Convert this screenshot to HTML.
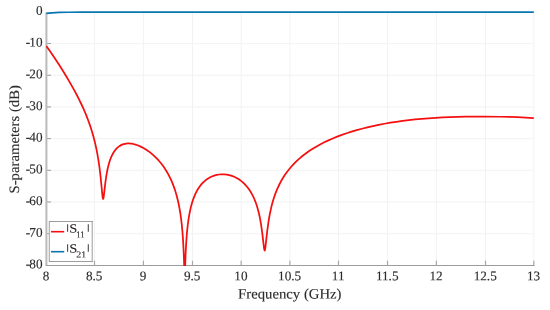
<!DOCTYPE html>
<html><head><meta charset="utf-8"><title>S-parameters</title><style>
html,body{margin:0;padding:0;background:#fff;width:550px;height:310px;overflow:hidden}
svg{display:block}
text{font-family:"Liberation Serif","Times New Roman",serif;fill:#2b2b2b;text-rendering:geometricPrecision;stroke:#2b2b2b;stroke-width:0.12px}
</style></head><body>
<svg width="550" height="310" viewBox="0 0 550 310">
<rect width="550" height="310" fill="#fff"/>
<g fill="#f2f2f2"><rect x="94.00" y="11.86" width="1" height="253.59"/><rect x="142.90" y="11.86" width="1" height="253.59"/><rect x="192.00" y="11.86" width="1" height="253.59"/><rect x="240.70" y="11.86" width="1" height="253.59"/><rect x="289.40" y="11.86" width="1" height="253.59"/><rect x="338.00" y="11.86" width="1" height="253.59"/><rect x="387.00" y="11.86" width="1" height="253.59"/><rect x="435.90" y="11.86" width="1" height="253.59"/><rect x="485.00" y="11.86" width="1" height="253.59"/><rect x="533.30" y="11.86" width="1" height="253.59"/></g>
<g fill="#f4f4f4"><rect x="46.30" y="42.95" width="487.50" height="1.2"/><rect x="46.30" y="74.64" width="487.50" height="1.2"/><rect x="46.30" y="106.33" width="487.50" height="1.2"/><rect x="46.30" y="138.02" width="487.50" height="1.2"/><rect x="46.30" y="169.71" width="487.50" height="1.2"/><rect x="46.30" y="201.40" width="487.50" height="1.2"/><rect x="46.30" y="233.09" width="487.50" height="1.2"/></g>
<g fill="#a8a8a8"><rect x="93.90" y="260.7" width="1.2" height="4.5"/><rect x="142.80" y="260.7" width="1.2" height="4.5"/><rect x="191.90" y="260.7" width="1.2" height="4.5"/><rect x="240.60" y="260.7" width="1.2" height="4.5"/><rect x="289.30" y="260.7" width="1.2" height="4.5"/><rect x="337.90" y="260.7" width="1.2" height="4.5"/><rect x="386.90" y="260.7" width="1.2" height="4.5"/><rect x="435.80" y="260.7" width="1.2" height="4.5"/><rect x="484.90" y="260.7" width="1.2" height="4.5"/><rect x="533.20" y="260.7" width="1.2" height="4.5"/></g>
<g fill="#9c9c9c"><rect x="46" y="43.05" width="5" height="1"/><rect x="46" y="74.74" width="5" height="1"/><rect x="46" y="106.43" width="5" height="1"/><rect x="46" y="138.12" width="5" height="1"/><rect x="46" y="169.81" width="5" height="1"/><rect x="46" y="201.50" width="5" height="1"/><rect x="46" y="233.19" width="5" height="1"/></g>
<rect x="45.4" y="12.4" width="2" height="253.60" fill="#bababa"/>
<rect x="46" y="265" width="488.6" height="1" fill="#9c9c9c"/>
<defs><clipPath id="c"><rect x="46" y="0" width="489" height="266"/></clipPath></defs>
<g clip-path="url(#c)" fill="none" stroke-linejoin="round" stroke-linecap="butt">
<path d="M46.30,13.37 49.04,13.06 52.06,12.81 59.18,12.45 68.31,12.26 81.79,12.18 533.80,12.17" stroke="#0876b2" stroke-width="1.7"/>
<path d="M46.30,45.98 49.71,50.81 53.13,55.80 59.90,66.10 63.18,71.30 66.35,76.48 69.37,81.58 72.23,86.58 74.75,91.13 77.08,95.51 79.26,99.80 81.30,104.00 83.21,108.15 85.01,112.27 86.68,116.36 88.25,120.44 89.66,124.36 90.96,128.26 92.19,132.22 93.33,136.20 94.40,140.22 95.39,144.35 96.31,148.52 97.17,152.83 98.49,160.54 99.65,168.73 100.76,178.43 102.38,195.22 102.73,197.80 102.90,198.53 103.05,198.88 103.13,198.92 103.21,198.87 103.38,198.49 103.73,196.63 105.49,181.64 106.13,177.13 106.79,173.11 107.49,169.49 108.25,166.16 109.07,163.11 109.96,160.31 111.05,157.42 112.24,154.82 113.53,152.51 114.92,150.46 116.42,148.67 118.04,147.15 119.78,145.89 121.62,144.89 122.75,144.43 123.92,144.06 125.13,143.78 126.38,143.59 127.66,143.49 128.98,143.47 130.34,143.55 131.73,143.72 133.15,143.98 134.62,144.32 137.62,145.29 140.71,146.60 143.86,148.25 147.00,150.20 150.07,152.41 153.04,154.86 155.91,157.55 158.64,160.44 161.22,163.52 163.66,166.80 165.94,170.26 168.18,174.10 170.25,178.14 172.16,182.42 173.90,186.88 175.47,191.56 176.89,196.51 178.16,201.70 179.28,207.15 180.24,212.73 181.08,218.71 181.83,225.14 182.46,231.99 182.99,239.15 183.44,247.08 183.82,255.45 184.29,268.00 185.07,268.00 185.08,267.93 185.64,253.52 186.20,242.78 186.90,233.29 187.75,225.00 188.61,218.66 189.62,212.84 190.77,207.54 192.07,202.72 192.87,200.21 193.73,197.82 194.64,195.57 195.60,193.43 196.63,191.40 197.71,189.49 198.85,187.68 200.06,185.98 201.32,184.40 202.65,182.93 204.04,181.57 205.49,180.31 207.00,179.17 208.56,178.15 210.18,177.25 211.86,176.46 214.19,175.58 216.62,174.93 219.11,174.50 221.64,174.31 224.20,174.35 226.75,174.62 229.30,175.13 231.80,175.86 234.23,176.80 236.59,177.96 238.87,179.32 241.07,180.88 243.15,182.63 245.14,184.58 247.02,186.71 248.80,189.02 250.28,191.23 251.68,193.60 252.99,196.10 254.22,198.75 255.37,201.57 256.43,204.53 257.43,207.69 258.34,211.00 259.07,214.00 259.77,217.19 261.01,224.07 262.21,232.55 263.97,247.68 264.35,249.83 264.52,250.34 264.69,250.47 264.86,250.26 265.03,249.67 265.41,247.34 267.18,231.38 268.40,222.28 269.67,214.75 271.14,207.85 272.08,204.08 273.09,200.48 274.20,196.99 275.38,193.65 276.64,190.41 278.00,187.28 279.45,184.25 281.00,181.30 282.76,178.27 284.63,175.32 286.62,172.47 288.73,169.70 290.97,167.01 293.33,164.41 295.81,161.88 298.44,159.42 301.18,157.04 304.07,154.74 307.09,152.50 310.25,150.33 313.55,148.23 316.99,146.19 320.57,144.23 324.29,142.33 328.42,140.37 332.71,138.49 337.17,136.68 341.80,134.94 346.60,133.27 351.55,131.68 356.66,130.16 361.92,128.72 367.33,127.36 372.89,126.08 378.57,124.88 384.39,123.76 390.33,122.72 396.38,121.77 402.54,120.91 408.78,120.13 415.15,119.44 421.70,118.83 428.45,118.29 435.41,117.83 442.59,117.44 450.01,117.13 465.69,116.71 483.34,116.57 500.73,116.75 509.19,116.95 517.53,117.23 525.73,117.58 533.80,118.01" stroke="#f41010" stroke-width="1.75"/>
</g>
<g font-size="13.2"><text transform="translate(46.00,280.35) rotate(0.05) scale(1.0,1)" text-anchor="middle">8</text><text transform="translate(94.20,280.35) rotate(0.05) scale(1.0,1)" text-anchor="middle">8.5</text><text transform="translate(143.10,280.35) rotate(0.05) scale(1.0,1)" text-anchor="middle">9</text><text transform="translate(192.20,280.35) rotate(0.05) scale(1.0,1)" text-anchor="middle">9.5</text><text transform="translate(240.90,280.35) rotate(0.05) scale(1.0,1)" text-anchor="middle">10</text><text transform="translate(289.60,280.35) rotate(0.05) scale(1.0,1)" text-anchor="middle">10.5</text><text transform="translate(338.20,280.35) rotate(0.05) scale(1.0,1)" text-anchor="middle">11</text><text transform="translate(387.20,280.35) rotate(0.05) scale(1.0,1)" text-anchor="middle">11.5</text><text transform="translate(436.10,280.35) rotate(0.05) scale(1.0,1)" text-anchor="middle">12</text><text transform="translate(485.20,280.35) rotate(0.05) scale(1.0,1)" text-anchor="middle">12.5</text><text transform="translate(533.50,280.35) rotate(0.05) scale(1.0,1)" text-anchor="middle">13</text><text transform="translate(42.5,14.86) rotate(0.05) scale(1.0,1)" text-anchor="end">0</text><text transform="translate(42.5,46.55) rotate(0.05) scale(1.0,1)" text-anchor="end">-<tspan dx="-0.8">10</tspan></text><text transform="translate(42.5,78.24) rotate(0.05) scale(1.0,1)" text-anchor="end">-<tspan dx="-0.8">20</tspan></text><text transform="translate(42.5,109.93) rotate(0.05) scale(1.0,1)" text-anchor="end">-<tspan dx="-0.8">30</tspan></text><text transform="translate(42.5,141.62) rotate(0.05) scale(1.0,1)" text-anchor="end">-<tspan dx="-0.8">40</tspan></text><text transform="translate(42.5,173.31) rotate(0.05) scale(1.0,1)" text-anchor="end">-<tspan dx="-0.8">50</tspan></text><text transform="translate(42.5,205.00) rotate(0.05) scale(1.0,1)" text-anchor="end">-<tspan dx="-0.8">60</tspan></text><text transform="translate(42.5,236.69) rotate(0.05) scale(1.0,1)" text-anchor="end">-<tspan dx="-0.8">70</tspan></text><text transform="translate(42.5,268.38) rotate(0.05) scale(1.0,1)" text-anchor="end">-<tspan dx="-0.8">80</tspan></text></g>
<text transform="translate(289.8,298.5) rotate(0.05) scale(1.03,1)" font-size="14.3" text-anchor="middle">Frequency (GHz)</text>
<text transform="translate(18.8,139.3) rotate(-90) scale(1.03,1)" font-size="14.3" text-anchor="middle">S-parameters (dB)</text>
<rect x="49" y="221" width="44" height="41" fill="#fff"/>
<g fill="#b4b4b4"><rect x="48.7" y="221" width="1.3" height="41"/><rect x="91.6" y="221" width="1.3" height="41"/></g>
<g fill="#9c9c9c"><rect x="49" y="221" width="44" height="1"/><rect x="49" y="261" width="44" height="1"/></g>
<rect x="51" y="230.9" width="13.2" height="1.6" fill="#f41010"/>
<rect x="51" y="250.9" width="13.2" height="1.6" fill="#0876b2"/>
<g><text transform="translate(65.24,229.94) rotate(0.05) scale(1.833,0.646)" font-size="12.6" style="fill:#505050;stroke:none">|</text><text transform="translate(86.04,229.94) rotate(0.05) scale(1.833,0.646)" font-size="12.6" style="fill:#505050;stroke:none">|</text><text transform="translate(69.13,232.45) rotate(0.05) scale(1.17,1)" font-size="12.35">S</text><text transform="translate(76.34,237.40) rotate(0.05) scale(0.93,1)" font-size="9.24">11</text><text transform="translate(65.24,249.94) rotate(0.05) scale(1.833,0.646)" font-size="12.6" style="fill:#505050;stroke:none">|</text><text transform="translate(86.04,249.94) rotate(0.05) scale(1.833,0.646)" font-size="12.6" style="fill:#505050;stroke:none">|</text><text transform="translate(69.13,252.45) rotate(0.05) scale(1.17,1)" font-size="12.35">S</text><text transform="translate(76.27,257.40) rotate(0.05) scale(1.06,1)" font-size="9.24">21</text></g>
</svg>
</body></html>
